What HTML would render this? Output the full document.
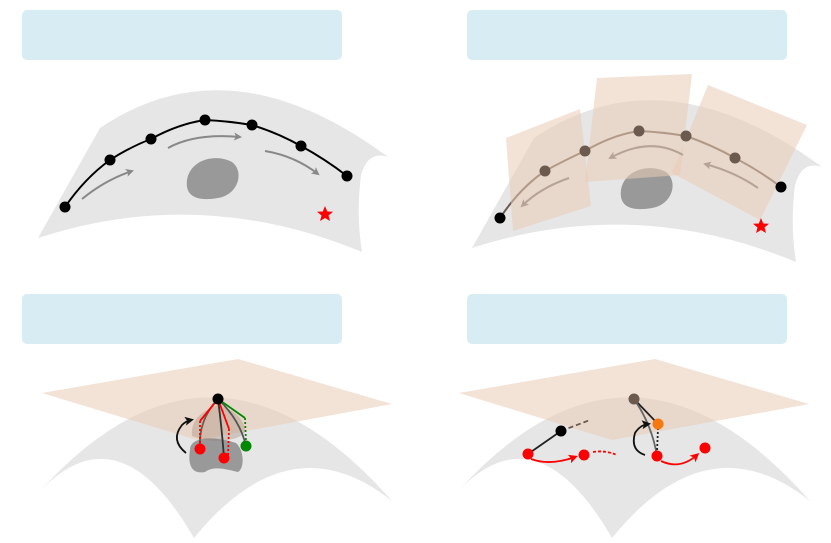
<!DOCTYPE html>
<html><head><meta charset="utf-8"><style>html,body{margin:0;padding:0;background:#fff}svg{display:block}</style></head>
<body>
<svg width="831" height="543" viewBox="0 0 831 543" xmlns="http://www.w3.org/2000/svg">
<defs>
<marker id="ag" markerWidth="8" markerHeight="8" refX="6" refY="4" orient="auto" markerUnits="userSpaceOnUse"><path d="M0,0 L8,4 L0,8 L2,4Z" fill="#888"/></marker>
<marker id="ab" markerWidth="8" markerHeight="8" refX="6" refY="4" orient="auto" markerUnits="userSpaceOnUse"><path d="M0,0 L8,4 L0,8 L2,4Z" fill="#b5a395"/></marker>
<marker id="ak" markerWidth="9" markerHeight="9" refX="6" refY="4.5" orient="auto" markerUnits="userSpaceOnUse"><path d="M0,0 L9,4.5 L0,9 L2,4.5Z" fill="#111"/></marker>
<marker id="ar" markerWidth="9" markerHeight="9" refX="6" refY="4.5" orient="auto" markerUnits="userSpaceOnUse"><path d="M0,0 L9,4.5 L0,9 L2,4.5Z" fill="#f00"/></marker>
</defs>

<!-- boxes -->
<rect x="22" y="10" width="320" height="50" rx="5" fill="#d7edf3"/>
<rect x="467" y="10" width="320" height="50" rx="5" fill="#d7edf3"/>
<rect x="22" y="294" width="320" height="50" rx="5" fill="#d7edf3"/>
<rect x="467" y="294" width="320" height="50" rx="5" fill="#d7edf3"/>

<!-- Panel 1 -->
<path d="M38,238 L100,128 Q230,40 388,157 Q368,150 361,175 Q356,215 362,252 Q200,185 38,238 Z" fill="#e6e6e6"/>
<path d="M187,180 C190,160 215,153 232,162 C245,172 238,195 218,198 C195,202 185,195 187,180Z" fill="#999"/>
<path d="M82,199 Q105,180 132,171" fill="none" stroke="#888" stroke-width="2" marker-end="url(#ag)"/>
<path d="M168,148 Q195,133 240,137" fill="none" stroke="#888" stroke-width="2" marker-end="url(#ag)"/>
<path d="M265,151 Q295,156 318,174" fill="none" stroke="#888" stroke-width="2" marker-end="url(#ag)"/>
<path d="M65,207 Q85,178 110,160 Q130,147 151,139 Q178,124 205,120 Q228,121 252,125 Q278,133 301,146 Q325,159 347,176" fill="none" stroke="#000" stroke-width="2"/>
<g fill="#000"><circle cx="65" cy="207" r="5.5"/><circle cx="110" cy="160" r="5.5"/><circle cx="151" cy="139" r="5.5"/><circle cx="205" cy="120" r="5.5"/><circle cx="252" cy="125" r="5.5"/><circle cx="301" cy="146" r="5.5"/><circle cx="347" cy="176" r="5.5"/></g>
<polygon points="325,206 327.2,211.5 333,211.8 328.5,215.5 330,221 325,218 320,221 321.5,215.5 317,211.8 322.8,211.5" fill="#f00"/>

<!-- Panel 2 -->
<path d="M472,248 L534,138 Q664,50 822,167 Q802,160 795,185 Q790,225 796,262 Q634,195 472,248 Z" fill="#e6e6e6"/>
<path d="M621,190 C624,170 649,163 666,172 C679,182 672,205 652,208 C629,212 619,205 621,190Z" fill="#999"/>
<path d="M500,218 Q520,188 545,171 Q565,160 585,151 Q612,135 639,131 Q662,132 686,136 Q712,145 735,158 Q760,171 781,187" fill="none" stroke="#6b5a4d" stroke-width="2"/>
<g fill="rgb(234,203,182)" fill-opacity="0.56">
<polygon points="506,138 580,109 591,206 513,231"/>
<polygon points="597,78 692,74 680,175 585,182"/>
<polygon points="708,85 807,125 760,220 672,173"/>
</g>
<path d="M569,178 Q540,188 522,206" fill="none" stroke="#b5a395" stroke-width="2" marker-end="url(#ab)"/>
<path d="M683,155 Q650,136 610,158" fill="none" stroke="#b5a395" stroke-width="2" marker-end="url(#ab)"/>
<path d="M758,188 Q735,172 705,164" fill="none" stroke="#b5a395" stroke-width="2" marker-end="url(#ab)"/>
<g fill="#6b5a4d"><circle cx="545" cy="171" r="5.5"/><circle cx="585" cy="151" r="5.5"/><circle cx="639" cy="131" r="5.5"/><circle cx="686" cy="136" r="5.5"/><circle cx="735" cy="158" r="5.5"/></g>
<circle cx="500" cy="218" r="5.5" fill="#000"/><circle cx="781" cy="187" r="5.5" fill="#000"/>
<polygon points="761,218 763.2,223.5 769,223.8 764.5,227.5 766,233 761,230 756,233 757.5,227.5 753,223.8 758.8,223.5" fill="#f00"/>

<!-- Panel 3 -->
<path d="M42,489 Q215,300 392,501 Q290,420 194,538 Q120,410 42,489Z" fill="#e6e6e6"/>
<polygon points="42,393 238,359 392,404 197,440" fill="rgb(234,203,182)" fill-opacity="0.56"/>
<path d="M190,450 C190,436 215,436 236,443 C244,450 245,468 238,472 C228,470 215,465 205,472 C190,475 188,462 190,450Z" fill="#999"/>
<path d="M192,436 C190,418 205,410 218,405 C235,410 245,420 245,432 C240,440 215,445 192,436Z" fill="rgb(150,120,100)" fill-opacity="0.3"/>
<g fill="none" stroke-width="1.8">
<path d="M218,399 Q198,420 200,449" stroke="#6b5a4d"/>
<path d="M218,399 Q222,430 224,458" stroke="#333"/>
<path d="M218,399 Q240,420 246,446" stroke="#555"/>
<path d="M218,399 L200,421" stroke="#f00"/>
<path d="M200,421 L200,445" stroke="#f00" stroke-dasharray="2,2"/>
<path d="M218,399 L229,429" stroke="#f00"/>
<path d="M229,429 L228,455" stroke="#f00" stroke-dasharray="2,2"/>
<path d="M218,399 L245,418" stroke="#080"/>
<path d="M245,418 L246,443" stroke="#080" stroke-dasharray="2,2"/>
<path d="M186,453 Q170,440 182,425 Q186,421 191,420" stroke="#111" marker-end="url(#ak)"/>
</g>
<circle cx="218" cy="399" r="5.5" fill="#000"/>
<circle cx="200" cy="449" r="5.5" fill="#f00"/><circle cx="224" cy="458" r="5.5" fill="#f00"/><circle cx="246" cy="446" r="5.5" fill="#080"/>

<!-- Panel 4 -->
<path d="M460,489 Q633,300 810,501 Q708,420 612,538 Q538,410 460,489Z" fill="#e6e6e6"/>
<polygon points="459,393 655,359 809,404 612,440" fill="rgb(234,203,182)" fill-opacity="0.56"/>
<g fill="none" stroke-width="1.8">
<path d="M528,454 L561,431" stroke="#222"/>
<path d="M561,431 L590,420" stroke="#6b5a4d" stroke-dasharray="5,3"/>
<path d="M531,459 Q550,466 575,457" stroke="#f00" marker-end="url(#ar)"/>
<path d="M593,452 Q605,450 617,455" stroke="#f00" stroke-dasharray="3,2"/>
<path d="M634,399 L658,424" stroke="#222"/>
<path d="M634,399 Q652,425 657,456" stroke="#666"/>
<path d="M658,428 L657,452" stroke="#222" stroke-dasharray="2,2"/>
<path d="M645,455 Q630,450 635,433 Q640,425 648,424" stroke="#111" marker-end="url(#ak)"/>
<path d="M661,461 Q680,470 697,455" stroke="#f00" marker-end="url(#ar)"/>
</g>
<circle cx="561" cy="431" r="5.5" fill="#000"/>
<circle cx="528" cy="454" r="5.5" fill="#f00"/><circle cx="584" cy="455" r="5.5" fill="#f00"/>
<circle cx="634" cy="399" r="5.5" fill="#6b5a4d"/>
<circle cx="658" cy="424" r="5.5" fill="#f7780f"/>
<circle cx="657" cy="456" r="5.5" fill="#f00"/><circle cx="705" cy="448" r="5.5" fill="#f00"/>
</svg>
</body></html>
